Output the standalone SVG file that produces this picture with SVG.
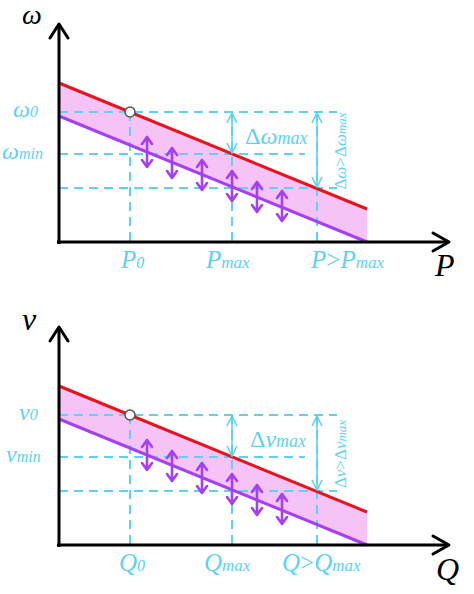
<svg xmlns="http://www.w3.org/2000/svg" width="474" height="594" viewBox="0 0 474 594">
<style>
.ax{stroke:#000;stroke-width:3;fill:none}
.ah{stroke:#000;stroke-width:3;fill:none;stroke-linecap:round;stroke-linejoin:round}
.red{stroke:#e8131b;stroke-width:3;fill:none}
.pur{stroke:#a63ff2;stroke-width:3;fill:none}
.band{fill:#f5c3f6;stroke:none}
.dash{stroke:#5dd2f2;stroke-width:2;fill:none;stroke-dasharray:9 6}
.cy{stroke:#5dd2f2;stroke-width:1.6;fill:none}
.pa{stroke:#a63ff2;stroke-width:2.6;fill:none;stroke-linecap:round;stroke-linejoin:round}
.pt{fill:#fff;stroke:#555;stroke-width:1.5}
.m{font-family:"Liberation Serif","DejaVu Serif",serif;font-style:italic}
.c{fill:#5dd2f2}
.k{fill:#000}
.up{font-style:normal}
</style>
<defs>
<marker id="ca" viewBox="0 0 12 12" refX="11" refY="6" markerWidth="12" markerHeight="12" markerUnits="userSpaceOnUse" orient="auto-start-reverse">
<path d="M1,1 L11,6 L1,11" fill="none" stroke="#5dd2f2" stroke-width="1.6"/>
</marker>
<g id="pa"><path class="pa" d="M0,-15 V15 M-5,-8 L0,-15 L5,-8 M-5,8 L0,15 L5,8"/></g>
</defs>

<g id="plot-omega-P">
<polygon class="band" points="59,83 367,209 367,242 59,116"/>
<g id="guides-top">
<path class="dash" d="M59,112 H337 M59,154 H305 M59,188 H337 M130,112 V242 M232,112 V242 M317,112 V242"/>
</g>
<path class="red" d="M59,83 L367,209"/>
<path class="pur" d="M59,116 L367,242"/>
<g id="axes-top">
<path class="ax" d="M59,244 V24 M57,242 H448"/>
<path class="ah" d="M50,38 L59,24 L68,38"/>
<path class="ah" d="M433,233 L449,242 L433,251"/>
</g>
<g id="connectors-top">
<path class="cy" d="M232,113 V153" marker-start="url(#ca)" marker-end="url(#ca)"/>
<path class="cy" d="M317,113 V187" marker-start="url(#ca)" marker-end="url(#ca)"/>
<use href="#pa" x="147" y="152"/>
<use href="#pa" x="172" y="163"/>
<use href="#pa" x="202" y="175"/>
<use href="#pa" x="232" y="186"/>
<use href="#pa" x="257" y="197"/>
<use href="#pa" x="282" y="206"/>
</g>
<circle class="pt" cx="130" cy="112" r="5"/>
<g id="labels-top">
<text class="m k" x="22" y="24" font-size="28">ω</text>
<text class="m c" x="13" y="117" font-size="24">ω<tspan font-size="16">0</tspan></text>
<text class="m c" x="2" y="159" font-size="24">ω<tspan font-size="16">min</tspan></text>
<text class="m c" x="121" y="268" font-size="25">P<tspan font-size="16">0</tspan></text>
<text class="m c" x="206" y="268" font-size="25">P<tspan font-size="17">max</tspan></text>
<text class="m c" x="311" y="268" font-size="25">P<tspan class="up">&gt;</tspan>P<tspan font-size="17">max</tspan></text>
<text class="m k" x="435" y="276" font-size="32">P</text>
<text class="m c" x="245" y="144" font-size="24"><tspan class="up">Δ</tspan>ω<tspan font-size="18">max</tspan></text>
<text class="m c" transform="translate(346,151) rotate(-90)" text-anchor="middle" font-size="17"><tspan class="up">Δ</tspan>ω<tspan class="up">&gt;Δ</tspan>ω<tspan font-size="13">max</tspan></text>
</g>
</g>

<g id="plot-v-Q">
<polygon class="band" points="59,386 367,512 367,545 59,419"/>
<g id="guides-bottom">
<path class="dash" d="M59,415 H337 M59,457 H305 M59,491 H337 M130,415 V545 M232,415 V545 M317,415 V545"/>
</g>
<path class="red" d="M59,386 L367,512"/>
<path class="pur" d="M59,419 L367,545"/>
<g id="axes-bottom">
<path class="ax" d="M59,547 V327 M57,545 H448"/>
<path class="ah" d="M50,341 L59,327 L68,341"/>
<path class="ah" d="M433,536 L449,545 L433,554"/>
</g>
<g id="connectors-bottom">
<path class="cy" d="M232,416 V456" marker-start="url(#ca)" marker-end="url(#ca)"/>
<path class="cy" d="M317,416 V490" marker-start="url(#ca)" marker-end="url(#ca)"/>
<use href="#pa" x="147" y="455"/>
<use href="#pa" x="172" y="466"/>
<use href="#pa" x="202" y="478"/>
<use href="#pa" x="232" y="489"/>
<use href="#pa" x="257" y="500"/>
<use href="#pa" x="282" y="509"/>
</g>
<circle class="pt" cx="130" cy="415" r="5"/>
<g id="labels-bottom">
<text class="m k" x="22" y="330" font-size="32">v</text>
<text class="m c" x="19" y="420" font-size="24">v<tspan font-size="16">0</tspan></text>
<text class="m c" x="6" y="462" font-size="24">v<tspan font-size="16">min</tspan></text>
<text class="m c" x="119" y="571" font-size="25">Q<tspan font-size="16">0</tspan></text>
<text class="m c" x="204" y="571" font-size="25">Q<tspan font-size="17">max</tspan></text>
<text class="m c" x="282" y="571" font-size="25">Q<tspan class="up">&gt;</tspan>Q<tspan font-size="17">max</tspan></text>
<text class="m k" x="436" y="580" font-size="32">Q</text>
<text class="m c" x="250" y="447" font-size="24"><tspan class="up">Δ</tspan>v<tspan font-size="18">max</tspan></text>
<text class="m c" transform="translate(346,454) rotate(-90)" text-anchor="middle" font-size="17"><tspan class="up">Δ</tspan>v<tspan class="up">&gt;Δ</tspan>v<tspan font-size="13">max</tspan></text>
</g>
</g>
</svg>
